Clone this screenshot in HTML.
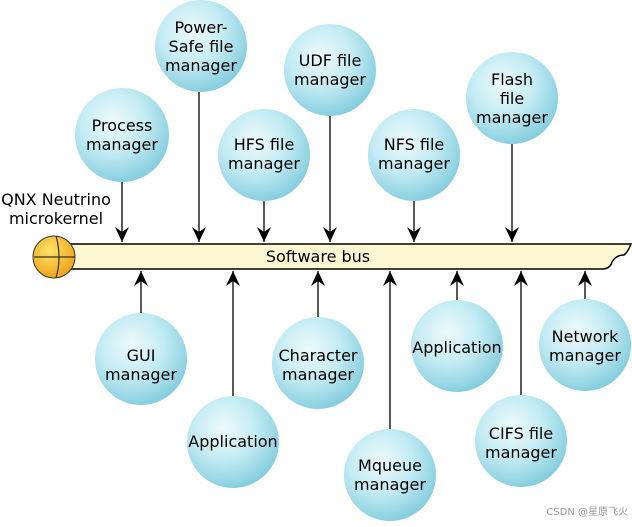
<!DOCTYPE html>
<html><head><meta charset="utf-8"><style>
html,body{margin:0;padding:0;background:#fff;}
text{font-family:"DejaVu Sans","Liberation Sans",sans-serif;font-size:16px;fill:#000;}
</style></head><body>
<svg width="632" height="522" viewBox="0 0 632 522" xmlns="http://www.w3.org/2000/svg">
<defs>
<radialGradient id="s" cx="0.4" cy="0.35" r="0.7">
<stop offset="0" stop-color="#eefafc"/>
<stop offset="0.5" stop-color="#c2ebf3"/>
<stop offset="1" stop-color="#7fcadc"/>
</radialGradient>
<radialGradient id="k" cx="0.4" cy="0.35" r="0.7">
<stop offset="0" stop-color="#ffe36a"/>
<stop offset="1" stop-color="#eea010"/>
</radialGradient>
<marker id="a" markerWidth="16" markerHeight="14" refX="15" refY="7" orient="auto" markerUnits="userSpaceOnUse" viewBox="0 0 16 14">
<path d="M0,0 L15,7 L0,14 L5,7 Z" fill="#000"/>
</marker>
</defs>
<path d="M70,244 L631,244 Q628,252 624,255 Q616,255 612,262 Q610,269 602,269 L70,269 Z" fill="#fdf8d2" stroke="#000" stroke-width="1.5"/>
<text x="318" y="262" text-anchor="middle">Software bus</text>
<circle cx="54" cy="257" r="21" fill="url(#k)" stroke="#333" stroke-width="1"/>
<path d="M56,236 Q62,257 56,278 M34,257 L75,257" fill="none" stroke="#333" stroke-width="1.2"/>
<text x="56" y="205" text-anchor="middle">QNX Neutrino</text>
<text x="56" y="224" text-anchor="middle">microkernel</text>
<g stroke="#000" stroke-width="1.3">
<line x1="122" y1="182" x2="122" y2="242" marker-end="url(#a)"/>
<line x1="199" y1="92" x2="199" y2="242" marker-end="url(#a)"/>
<line x1="264" y1="201" x2="264" y2="242" marker-end="url(#a)"/>
<line x1="330" y1="116" x2="330" y2="242" marker-end="url(#a)"/>
<line x1="414" y1="201" x2="414" y2="242" marker-end="url(#a)"/>
<line x1="512" y1="144" x2="512" y2="242" marker-end="url(#a)"/>
<line x1="141" y1="313" x2="141" y2="271" marker-end="url(#a)"/>
<line x1="233" y1="396" x2="233" y2="271" marker-end="url(#a)"/>
<line x1="318" y1="317" x2="318" y2="271" marker-end="url(#a)"/>
<line x1="390" y1="429" x2="390" y2="271" marker-end="url(#a)"/>
<line x1="457" y1="300" x2="457" y2="271" marker-end="url(#a)"/>
<line x1="521" y1="395" x2="521" y2="271" marker-end="url(#a)"/>
<line x1="585" y1="299" x2="585" y2="271" marker-end="url(#a)"/>
</g>
<g fill="url(#s)">
<circle cx="122" cy="135" r="47"/>
<circle cx="201" cy="46" r="46"/>
<circle cx="264" cy="155" r="46"/>
<circle cx="330" cy="70" r="46"/>
<circle cx="414" cy="155" r="46"/>
<circle cx="512" cy="98" r="46"/>
<circle cx="141" cy="359" r="46"/>
<circle cx="233" cy="442" r="46"/>
<circle cx="318" cy="363" r="46"/>
<circle cx="390" cy="475" r="46"/>
<circle cx="457" cy="346" r="46"/>
<circle cx="521" cy="441" r="46"/>
<circle cx="585" cy="345" r="46"/>
</g>
<g text-anchor="middle">
<text x="122" y="131">Process</text><text x="122" y="150">manager</text>
<text x="201" y="33">Power-</text><text x="201" y="52">Safe file</text><text x="201" y="71">manager</text>
<text x="264" y="150">HFS file</text><text x="264" y="169">manager</text>
<text x="330" y="66">UDF file</text><text x="330" y="85">manager</text>
<text x="414" y="150">NFS file</text><text x="414" y="169">manager</text>
<text x="512" y="85">Flash</text><text x="512" y="104">file</text><text x="512" y="123">manager</text>
<text x="141" y="361">GUI</text><text x="141" y="380">manager</text>
<text x="233" y="447">Application</text>
<text x="318" y="361">Character</text><text x="318" y="380">manager</text>
<text x="390" y="471">Mqueue</text><text x="390" y="490">manager</text>
<text x="457" y="353">Application</text>
<text x="521" y="439">CIFS file</text><text x="521" y="458">manager</text>
<text x="585" y="342">Network</text><text x="585" y="361">manager</text>
</g>
<text x="628" y="515" text-anchor="end" style="font-size:10px;fill:#999">CSDN @星原飞火</text>
</svg>
</body></html>
